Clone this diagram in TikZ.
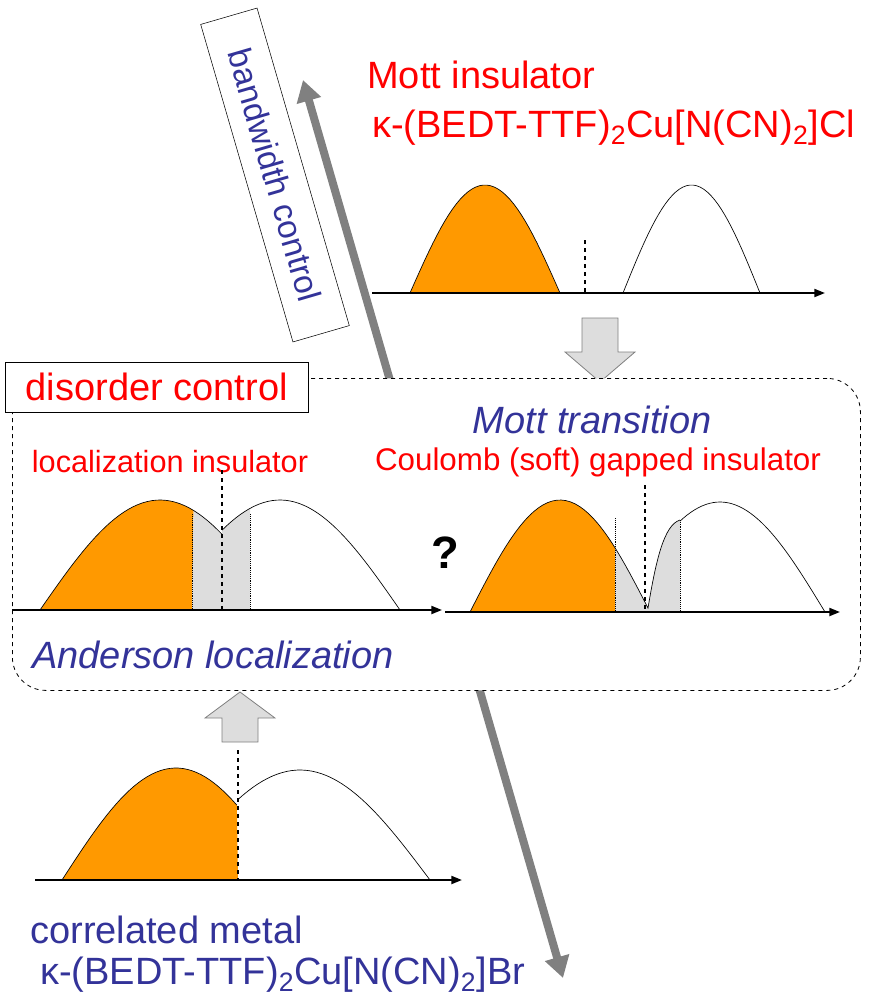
\documentclass[tikz,border=0pt]{standalone}
\usepackage{fontspec}
\setmainfont{Liberation Sans}
\usetikzlibrary{arrows.meta}
\definecolor{myred}{HTML}{FF0000}
\definecolor{myblue}{HTML}{333399}
\definecolor{myorange}{HTML}{FF9900}
\definecolor{mygray}{HTML}{DDDDDD}
\begin{document}
\begin{tikzpicture}[x=0.75pt,y=-0.75pt,
  lbl/.style={inner sep=0pt,anchor=west},
  big/.style={font=\fontsize{28.5}{31}\selectfont},
  axis/.style={line width=1.5pt,-{Triangle[length=8pt,width=6pt]}},
  band/.style={line width=0.5pt},
  fermi/.style={dashed,line width=0.8pt},
  blk/.style={fill=mygray,draw=gray,line width=0.6pt}]
\useasboundingbox (0,0) rectangle (868,1000);
% bandwidth control arrow
\coordinate (bwtop) at (303,80);
\coordinate (bwbot) at (563,978);
\draw[line width=6pt,gray,{Triangle[length=16pt,width=18pt]}-{Triangle[length=16pt,width=18pt]}] (bwbot) -- (bwtop);
\node[draw,fill=white,rotate=-73.8,text=myblue,font=\fontsize{25}{28}\selectfont,minimum width=248pt,minimum height=44pt,inner xsep=8pt] (bw) at (275,175) {bandwidth control};
% top Mott insulator
\node[lbl,text=myred,big] (mi) at (367,75) {Mott insulator};
\node[lbl,text=myred,big] (k1) at (372,128) {κ-(BEDT-TTF)\textsubscript{2}Cu[N(CN)\textsubscript{2}]Cl};
\fill[myorange] plot[domain=0:180,samples=40] ({410+150/180*\x},{293-108*sin(\x)}) -- cycle;
\draw[band] plot[domain=0:180,samples=40] ({410+150/180*\x},{293-108*sin(\x)});
\draw[band] plot[domain=0:180,samples=40] ({623+137/180*\x},{293-108*sin(\x)});
\coordinate (t0) at (372,293); \coordinate (t1) at (825,293);
\coordinate (tf0) at (585,240); \coordinate (tf1) at (585,293);
\draw[fermi] (tf0) -- (tf1);
\draw[axis] (t0) -- (t1);
% down block arrow
\draw[blk] (582,318) -- (618,318) -- (618,352) -- (635,352) -- (600,382) -- (565,352) -- (582,352) -- cycle;
% main box
\node[draw,dashed,fill=white,rounded corners=25pt,minimum width=636pt,minimum height=234pt,anchor=north west,line width=0.6pt] (box) at (12,378) {};
\node[draw,fill=white,text=myred,big,minimum width=227pt,minimum height=37.5pt,anchor=north west,line width=0.6pt] (dc) at (5,362) {disorder control};
\node[text=myblue,font=\itshape\fontsize{28.5}{31}\selectfont] (mt) at (592,420) {Mott transition};
\node[text=myred,font=\fontsize{23.5}{26}\selectfont] (cg) at (598,462) {Coulomb (soft) gapped insulator};
\node[text=myred,font=\fontsize{23}{26}\selectfont] (li) at (170,462) {localization insulator};
\node[text=myblue,font=\itshape\fontsize{28.5}{31}\selectfont] (al) at (213,655) {Anderson localization};
\node[font=\bfseries\fontsize{34}{36}\selectfont] (q) at (445,553) {?};
% middle left DOS
\fill[myorange] plot[domain=0:115.2,samples=30] ({40+240/180*\x},{610-110*sin(\x)}) -- (192,610) -- cycle;
\fill[mygray] (192,610) -- plot[domain=115.2:136.5,samples=20] ({40+240/180*\x},{610-110*sin(\x)}) -- plot[domain=46.5:67.5,samples=20] ({160+240/180*\x},{610-110*sin(\x)}) -- (250,610) -- cycle;
\draw[band] plot[domain=0:136.5,samples=40] ({40+240/180*\x},{610-110*sin(\x)});
\draw[band] plot[domain=46.5:180,samples=40] ({160+240/180*\x},{610-110*sin(\x)});
\draw[densely dotted,line width=0.4pt] (192,610) -- (192,513) (250,610) -- (250,513);
\coordinate (lf0) at (222,470); \coordinate (lf1) at (222,610);
\draw[fermi] (lf0) -- (lf1);
\coordinate (l0) at (12,610); \coordinate (l1) at (442,610);
\draw[axis] (l0) -- (l1);
% middle right DOS
\fill[myorange] plot[domain=0:145,samples=30] ({470+\x},{612-112*sin(\x)}) -- (615,612) -- cycle;
\fill[mygray] (615,612) -- plot[domain=145:178,samples=20] ({470+\x},{612-112*sin(\x)}) .. controls (656,560) and (664,525) .. (680,520) -- (680,612) -- cycle;
\draw[band] plot[domain=0:178,samples=40] ({470+\x},{612-112*sin(\x)}) .. controls (656,560) and (664,525) .. (680,520);
\draw[band] plot[domain=55.7:180,samples=40] ({615+210/180*\x},{612-110*sin(\x)});
\draw[densely dotted,line width=0.4pt] (615,612) -- (615,518) (680,612) -- (680,520);
\coordinate (rf0) at (645,485); \coordinate (rf1) at (645,612);
\draw[fermi] (rf0) -- (rf1);
\coordinate (r0) at (445,612); \coordinate (r1) at (840,612);
\draw[axis] (r0) -- (r1);
% up block arrow
\draw[blk] (222,742) -- (258,742) -- (258,718) -- (275,718) -- (240,692) -- (205,718) -- (222,718) -- cycle;
% bottom DOS
\fill[myorange] plot[domain=0:138,samples=30] ({62+228/180*\x},{880-112*sin(\x)}) -- (238,880) -- cycle;
\draw[band] plot[domain=0:138,samples=40] ({62+228/180*\x},{880-112*sin(\x)});
\draw[band] plot[domain=47:180,samples=40] ({170+260/180*\x},{880-110*sin(\x)});
\coordinate (bf0) at (238,750); \coordinate (bf1) at (238,880);
\draw[fermi] (bf0) -- (bf1);
\coordinate (b0) at (35,880); \coordinate (b1) at (462,880);
\draw[axis] (b0) -- (b1);
\node[lbl,text=myblue,big] (cm) at (30,930) {correlated metal};
\node[lbl,text=myblue,big] (k2) at (40,975) {κ-(BEDT-TTF)\textsubscript{2}Cu[N(CN)\textsubscript{2}]Br};
\end{tikzpicture}
\end{document}
